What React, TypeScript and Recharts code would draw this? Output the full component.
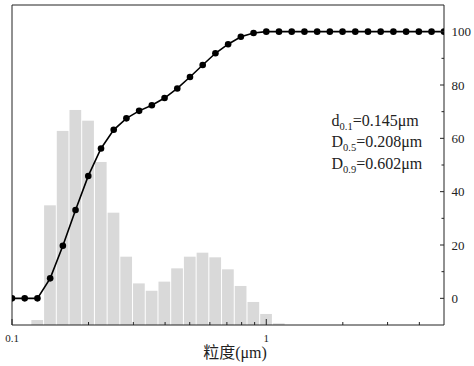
import { ComposedChart, Bar, Line, XAxis, YAxis, ReferenceLine } from "recharts";

// particle size (µm), one point every 0.05 decade
const sizes = [
  0.1, 0.1122, 0.1259, 0.1413, 0.1585, 0.1778, 0.1995, 0.2239, 0.2512, 0.2818,
  0.3162, 0.3548, 0.3981, 0.4467, 0.5012, 0.5623, 0.631, 0.7079, 0.7943, 0.8913,
  1, 1.122, 1.259, 1.413, 1.585, 1.778, 1.995, 2.239, 2.512, 2.818,
  3.162, 3.548, 3.981, 4.467, 5,
];
// differential distribution (%), grey bars
const freq = [
  null, null, 0.31, 7.48, 12.13, 13.44, 12.77, 10.19, 7.02, 4.27,
  2.6, 2.14, 2.71, 3.54, 4.27, 4.52, 4.23, 3.48, 2.44, 1.44,
  0.69, 0.1, null, null, null, null, null, null, null, null,
  null, null, null, null, null,
];
// cumulative distribution (%)
const cumulative = [
  0, 0, 0, 7.5, 19.7, 33.1, 45.9, 56.2, 63.2, 67.5,
  70.3, 72.4, 75.1, 78.7, 83.0, 87.5, 91.9, 95.3, 98.1, 99.5,
  100, 100, 100, 100, 100, 100, 100, 100, 100, 100,
  100, 100, 100, 100, 100,
];

const xTicks = [0.1, 0.2, 0.3, 0.4, 0.5, 0.6, 0.7, 0.8, 0.9, 1, 2, 3, 4];
const xLabels = [0.1, 1];
const yTicks = [0, 10, 20, 30, 40, 50, 60, 70, 80, 90, 100];
const yLabels = [0, 20, 40, 60, 80, 100];
const notes = [
  ["d", "0.1", "=0.145μm"],
  ["D", "0.5", "=0.208μm"],
  ["D", "0.9", "=0.602μm"],
];

const data = sizes.map((s, i) => ({ size: s, freq: freq[i], cum: cumulative[i] }));

const serif = "'Liberation Serif', 'Times New Roman', 'Noto Sans CJK SC', serif";
const axisColor = "#222";

const XTick = (props: any) => {
  const { x, y, payload } = props;
  const major = xLabels.includes(payload.value);
  return (
    <g>
      <line x1={x} x2={x} y1={y} y2={y - (major ? 6 : 3)} stroke={axisColor} />
      {major && (
        <text x={x} y={y + 17} textAnchor="middle" fontSize={11} fontFamily={serif} fill="#222">
          {payload.value}
        </text>
      )}
    </g>
  );
};

const YTick = (props: any) => {
  const { x, y, payload } = props;
  const major = yLabels.includes(payload.value);
  return (
    <g>
      <line x1={x} x2={x - (major ? 4 : 2.5)} y1={y} y2={y} stroke={axisColor} />
      {major && (
        <text x={x + 7.5} y={y + 4.5} textAnchor="start" fontSize={13} fontFamily={serif} fill="#222">
          {payload.value}
        </text>
      )}
    </g>
  );
};

const BarShape = (props: any) => {
  const { x, y, width, height } = props;
  if (!height) return null;
  const cx = x + width / 2;
  return <rect x={cx - 5.85} y={y} width={11.7} height={height} fill="#d9d9d9" />;
};

const App = () => {
  return (
    <div style={{ position: "absolute", left: 0, top: 0 }}>
      <ComposedChart
        width={474}
        height={366}
        data={data}
        margin={{ top: 5, right: 0, bottom: 0, left: 12 }}
      >
        <XAxis
          dataKey="size"
          type="number"
          scale="log"
          domain={[0.1, 5]}
          allowDataOverflow
          ticks={xTicks}
          interval={0}
          height={41}
          tickSize={0}
          tickMargin={0}
          tickLine={false}
          tick={<XTick />}
          axisLine={{ stroke: axisColor }}
          label={{
            value: "粒度(μm)",
            position: "insideBottom",
            offset: 8,
            dx: 7,
            fontSize: 16,
            fill: "#222",
            fontFamily: serif,
          }}
        />
        <YAxis yAxisId="bar" hide domain={[0, 20]} allowDataOverflow />
        <YAxis
          yAxisId="right"
          orientation="right"
          width={30}
          domain={[-10, 110]}
          allowDataOverflow
          ticks={yTicks}
          interval={0}
          tickSize={0}
          tickMargin={0}
          tickLine={false}
          tick={<YTick />}
          axisLine={{ stroke: axisColor }}
        />
        <Bar yAxisId="bar" dataKey="freq" barSize={12} shape={BarShape} isAnimationActive={false} />
        <ReferenceLine yAxisId="right" x={0.1} stroke={axisColor} />
        <ReferenceLine yAxisId="right" y={110} stroke={axisColor} />
        <Line
          yAxisId="right"
          type="linear"
          dataKey="cum"
          stroke="#000"
          strokeWidth={1.6}
          dot={{ r: 3.3, fill: "#000", stroke: "#000", strokeWidth: 0 }}
          isAnimationActive={false}
        />
        {notes.map((n, i) => (
          <text key={i} x={331.5} y={125.5 + i * 21.5} fontSize={16} fontFamily={serif} fill="#222">
            {n[0]}
            <tspan fontSize={10.5} dy={4}>{n[1]}</tspan>
            <tspan dy={-4}>{n[2]}</tspan>
          </text>
        ))}
      </ComposedChart>
    </div>
  );
};

export default App;
